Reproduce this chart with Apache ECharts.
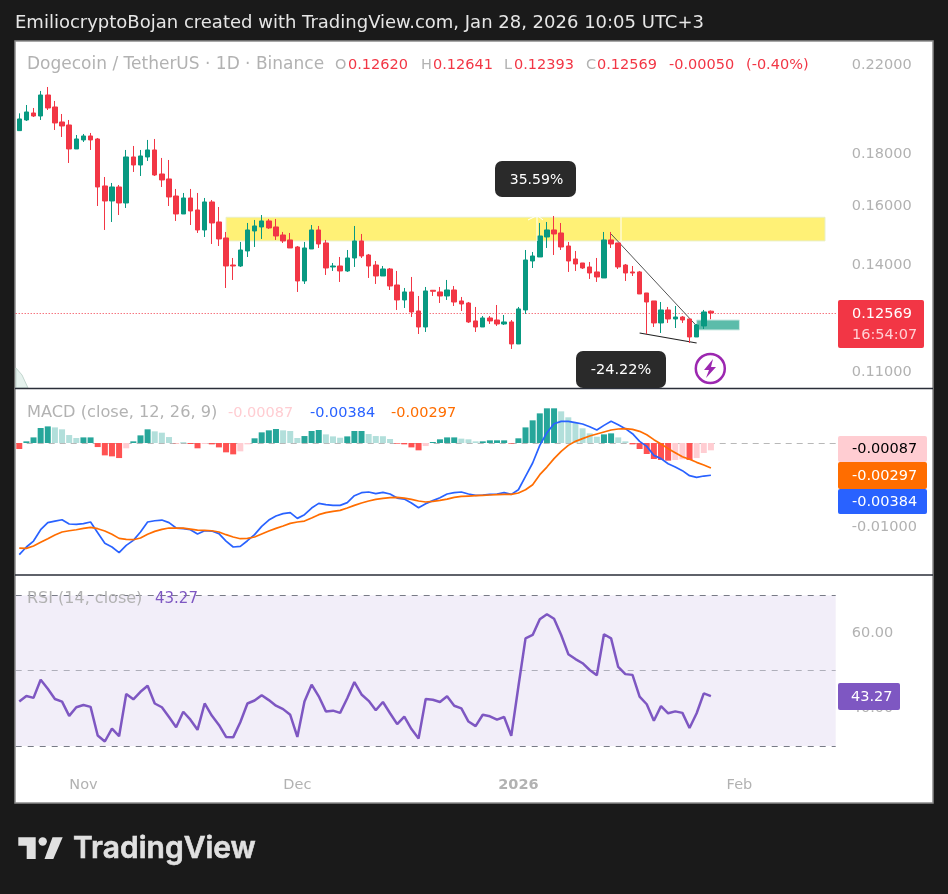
<!DOCTYPE html>
<html>
<head>
<meta charset="utf-8">
<style>html,body{margin:0;padding:0;background:#1a1a1a}#main{width:948px;height:894px}</style>
<script src="https://cdn.jsdelivr.net/npm/echarts@6/dist/echarts.min.js"></script>
</head>
<body>
<div id="main"></div>
<script>
// daily candles, Oct 23 2025 -> Jan 28 2026
var opens = [.18971,.19433,.19742,.19608,.2056,.20011,.19345,.19214,.18202,.18576,
  .18743,.18617,.16743,.16185,.16705,.16112,.17876,.17555,.17876,.18161,
  .17202,.1701,.16368,.15717,.16295,.1586,.1516,.16149,.15436,.14889,
  .14007,.13976,.14458,.15126,.15263,.15471,.15263,.14989,.14822,.14589,
  .13511,.14523,.1516,.14721,.13945,.13976,.1382,.14231,.14788,.14327,
  .14007,.13664,.13882,.13389,.12944,.1318,.12626,.12178,.1323,.1318,
  .13061,.13239,.12915,.12856,.12345,.12178,.12428,.12372,.12261,.12317,
  .1172,.12655,.14135,.14263,.14922,.1516,.15057,.14621,.14199,.14071,
  .13945,.13789,.13603,.14822,.14721,.14007,.13789,.13789,.1315,.12915,
  .12289,.12655,.124,.12456,.124,.11907,.12206,.1262];
var closes = [.19477,.19787,.19608,.2056,.19966,.19302,.19171,.18202,.18617,.18743,
  .18576,.16705,.16185,.16705,.16112,.17876,.17555,.17916,.18161,.17163,
  .16972,.16332,.15717,.16295,.15824,.1516,.16149,.15401,.14855,.13976,
  .13976,.1449,.1516,.15297,.15471,.15229,.14955,.14788,.14556,.13511,
  .14556,.1516,.14688,.13913,.13976,.1382,.14231,.14788,.14295,.13976,
  .13664,.13882,.13359,.12944,.1318,.12598,.12178,.1321,.132,.13061,
  .13239,.12885,.12827,.12317,.12178,.12428,.12345,.12261,.12317,.1172,
  .12684,.14167,.14295,.14955,.1516,.15023,.14589,.14135,.14039,.13913,
  .13757,.13634,.14822,.14688,.13945,.13757,.13757,.1312,.12885,.12289,
  .12655,.124,.12456,.12372,.11907,.12233,.12598,.12569];
var lows = [.18971,.19389,.19564,.19433,.19877,.18999,.18701,.17635,.18202,.18492,
  .18161,.16003,.1516,.15436,.15681,.15932,.17281,.17125,.17715,.17125,
  .16705,.16003,.15471,.15717,.15331,.15057,.14922,.14688,.14621,.13299,
  .13542,.13945,.14263,.14589,.14855,.15194,.14822,.14721,.14556,.1318,
  .1342,.14523,.14556,.13695,.1382,.13481,.13789,.13945,.14231,.13603,
  .1342,.13664,.13239,.12655,.12712,.12456,.11987,.12042,.13061,.12856,
  .12944,.12769,.12626,.12289,.12042,.12178,.12261,.12206,.12233,.11589,
  .1172,.12541,.13913,.14263,.14556,.14327,.1449,.13789,.1382,.13882,
  .13573,.13481,.13603,.14556,.13882,.13511,.13664,.1312,.11987,.12178,
  .12014,.12289,.1215,.12289,.11746,.11907,.12123,.12393];
var highs = [.19727,.20101,.19966,.20748,.20935,.20285,.19697,.19433,.18785,.18828,
  .18871,.18659,.17086,.16857,.1678,.18161,.18325,.18161,.18576,.18617,
  .17836,.17755,.1663,.1648,.1663,.1648,.16295,.16222,.15967,.15092,
  .14231,.14755,.15401,.15506,.15681,.15541,.15541,.15092,.15057,.14621,
  .14755,.15331,.15297,.14822,.14071,.14263,.1449,.15297,.15023,.1436,
  .14135,.13976,.13913,.1382,.13299,.13634,.13061,.13329,.13239,.13329,
  .13542,.13359,.13032,.12885,.12741,.12484,.12484,.12798,.12512,.12372,
  .12741,.1449,.14425,.15401,.15436,.15646,.15401,.14755,.14458,.14071,
  .14103,.14231,.15092,.15092,.14721,.14039,.13976,.1382,.1315,.12915,
  .12885,.12741,.12769,.12484,.124,.12261,.12655,.12641];

var macdLine = [-.01329,-.01238,-.01167,-.01032,-.00948,-.00929,-.00913,-.00964,-.00968,-.0096,
  -.0094,-.01067,-.01194,-.01238,-.01305,-.01218,-.01159,-.01059,-.0094,-.00925,
  -.00917,-.00948,-.01012,-.0102,-.01032,-.01083,-.01044,-.01048,-.01079,-.01167,
  -.01238,-.0123,-.01163,-.01091,-.00992,-.00917,-.00869,-.00841,-.00829,-.00897,
  -.00853,-.00774,-.00718,-.00734,-.00742,-.00742,-.0071,-.00627,-.00591,-.00583,
  -.00603,-.00587,-.00607,-.00655,-.00667,-.00714,-.0077,-.00722,-.00686,-.00651,
  -.00607,-.00591,-.00583,-.00607,-.00623,-.00619,-.00611,-.00607,-.00591,-.00611,
  -.00556,-.00397,-.00238,-.00028,.00123,.0023,.00258,.00258,.00242,.00226,
  .00194,.00155,.0021,.00258,.00218,.00171,.00111,.0002,-.0004,-.00147,
  -.00186,-.00246,-.00286,-.00329,-.00389,-.00409,-.00393,-.00384];
var signalLine = [-.0125,-.01254,-.01226,-.01182,-.01139,-.01095,-.01059,-.01044,-.01032,-.01016,
  -.01004,-.0102,-.01048,-.01087,-.01135,-.01147,-.01151,-.01131,-.01087,-.01052,
  -.01028,-.01012,-.01012,-.01012,-.01024,-.01036,-.0104,-.01044,-.01059,-.01091,
  -.01119,-.01139,-.01135,-.01119,-.01083,-.01048,-.01016,-.00988,-.00956,-.0094,
  -.00929,-.00893,-.00853,-.00829,-.00813,-.00802,-.00774,-.00742,-.00714,-.0069,
  -.00671,-.00659,-.00651,-.00647,-.00655,-.00671,-.0069,-.00702,-.00694,-.00682,
  -.00667,-.00647,-.00635,-.00631,-.00627,-.00623,-.00619,-.00615,-.00611,-.00611,
  -.00595,-.00556,-.00496,-.00377,-.00286,-.00186,-.00099,-.00028,.0002,.00052,
  .00083,.00107,.00131,.00155,.00167,.00171,.00163,.00139,.00099,.0004,
  -.00012,-.00067,-.00115,-.00163,-.00194,-.0023,-.00262,-.00297];
var macdHist = [-.00071,.0002,.00067,.00179,.00198,.00186,.00163,.00095,.0006,.00067,
  .00067,-.00048,-.00147,-.00159,-.00179,-.00063,.0002,.00091,.00163,.00139,
  .00123,.00071,-.00004,.00004,-.00012,-.00063,-.00012,-.00016,-.00052,-.00111,
  -.00135,-.00099,-.00016,.00056,.00127,.00151,.00167,.00151,.00143,.0006,
  .00083,.00143,.00155,.00103,.00079,.00063,.00079,.00143,.00143,.00107,
  .00083,.00081,.00048,-.00008,-.00016,-.00052,-.00087,-.00036,.00012,.00044,
  .00067,.00067,.00052,.00044,.0002,.0002,.00032,.00032,.00032,-.00008,
  .00056,.00186,.0027,.00353,.00413,.00413,.00377,.00306,.00242,.00175,
  .00115,.00075,.00103,.00115,.00067,.0002,-.00016,-.00071,-.00131,-.0019,
  -.00202,-.0021,-.00202,-.00194,-.00202,-.00179,-.00119,-.00087];
var rsiLine = [41.8,43.3,42.8,47.6,45.2,42.5,41.8,38,40.3,40.9,
  40.4,32.8,31.2,34.6,32.6,43.8,42.4,44.4,46,41.3,
  40.3,37.7,35,39.1,37,34.3,41.3,38.1,35.6,32.4,
  32.3,36.3,41.3,42.1,43.5,42.2,40.7,39.8,38.3,32.4,
  41.8,46.3,43.2,39.2,39.4,38.8,42.7,47,43.7,42,
  39.5,41.7,38.7,35.8,37.8,34.5,32,42.5,42.3,41.7,
  43.2,40.7,40,36.5,35.3,38.3,37.9,37,37.7,32.7,
  45.8,58.6,59.5,63.7,65,63.8,59.5,54.4,53.1,52,
  50.2,48.8,59.7,58.6,51,49.1,48.9,43.1,41.1,36.7,
  40.6,38.7,39.2,38.8,34.8,38.7,44,43.27];

var priceTicks = [0.22, 0.18, 0.16, 0.14, 0.11];
var macdTicks = [-0.01];
var rsiTicks = [60, 40];
var timeTickIndex = [9, 39, 70, 101];
var timeTickLabels = ['Nov', 'Dec', '2026', 'Feb'];

// the x axis runs on past the last candle, up to Feb 14
var categories = [];
for (var d = 0; d < 115; d++) {
  var day = new Date(2025, 9, 23 + d);
  categories.push((day.getMonth() + 1) + '/' + day.getDate());
}

var UP = '#089981', DOWN = '#f23645', GRAY = '#b2b2b2', FONT = '"DejaVu Sans", sans-serif';

function histColor(i) {
  var v = macdHist[i], prev = i > 0 ? macdHist[i - 1] : 0;
  if (v >= 0) return v >= prev ? '#26a69a' : '#b2dfdb';
  return v < prev ? '#ff5252' : '#ffcdd2';
}

function text(x, y, str, color, size, extra) {
  var style = {x: x, y: y, text: str, fill: color, fontSize: size, fontFamily: FONT, verticalAlign: 'middle'};
  for (var k in extra) style[k] = extra[k];
  return {type: 'text', z: 102, silent: true, style: style};
}
function box(x, y, w, h, color, r) {
  return {type: 'rect', z: 101, silent: true, shape: {x: x, y: y, width: w, height: h, r: r || 2}, style: {fill: color}};
}
function rule(x1, y1, x2, y2, color, w) {
  return {type: 'line', z: 5, silent: true, shape: {x1: x1, y1: y1, x2: x2, y2: y2}, style: {stroke: color, lineWidth: w}};
}

var graphics = [
  {type: 'rect', z: -1, silent: true, shape: {x: 15, y: 41, width: 918, height: 762}, style: {fill: '#fff', stroke: '#8c8c8c', lineWidth: 1.5}},
  rule(15, 388.5, 933, 388.5, '#2a2e39', 1.5),
  rule(15, 575, 933, 575, '#2a2e39', 1.5),
  // measuring tool leftovers in the yellow zone
  rule(537, 216, 537, 241, '#fff', 1),
  rule(621, 217, 621, 241, '#fff', 1),
  rule(528, 220, 536, 216, '#fff', 1),
  rule(538, 216, 543, 220, '#fff', 1),
  {type: 'polygon', z: 1, silent: true, shape: {points: [[16, 368], [22, 375], [28, 388], [16, 388]]}, style: {fill: '#e6f2ee', stroke: '#c3d6cf', lineWidth: 1}},

  text(15, 23, 'EmiliocryptoBojan created with TradingView.com, Jan 28, 2026 10:05 UTC+3', '#e6e6e6', 18),

  text(27, 65, 'Dogecoin / TetherUS · 1D · Binance', GRAY, 17),
  text(335, 65, 'O', GRAY, 14.5), text(348, 65, '0.12620', DOWN, 14.5),
  text(421, 65, 'H', GRAY, 14.5), text(433, 65, '0.12641', DOWN, 14.5),
  text(504, 65, 'L', GRAY, 14.5), text(514, 65, '0.12393', DOWN, 14.5),
  text(586, 65, 'C', GRAY, 14.5), text(597, 65, '0.12569', DOWN, 14.5),
  text(669, 65, '-0.00050', DOWN, 14.5), text(746, 65, '(-0.40%)', DOWN, 14.5),

  text(27, 413, 'MACD (close, 12, 26, 9)', GRAY, 16.2),
  text(228, 413, '-0.00087', '#ffcdd2', 14.5), text(310, 413, '-0.00384', '#2962ff', 14.5), text(391, 413, '-0.00297', '#ff6d00', 14.5),
  text(27, 599, 'RSI (14, close)', GRAY, 16), text(155, 599, '43.27', '#7e57c2', 15),

  box(495, 161, 81, 36, '#2a2a2a', 7), text(536.5, 180, '35.59%', '#fff', 14, {align: 'center'}),
  box(576, 351, 90, 37, '#2a2a2a', 7), text(621, 370, '-24.22%', '#fff', 14.5, {align: 'center'}),
  {type: 'circle', z: 101, silent: true, shape: {cx: 710.3, cy: 368.5, r: 14.5}, style: {fill: '#fff', stroke: '#9c27b0', lineWidth: 2.5}},
  {type: 'polygon', z: 102, silent: true, shape: {points: [[713, 359], [704, 370], [709, 370], [706, 378], [716, 367], [711, 367]]}, style: {fill: '#9c27b0'}},

  box(838, 300, 86, 48, DOWN), text(852, 314, '0.12569', '#fff', 14.5), text(852, 335, '16:54:07', '#ffd0d4', 14.5),
  box(838, 436, 89, 26, '#ffcdd2'), text(852, 449, '-0.00087', '#000', 14.5),
  box(838, 462, 89, 27, '#ff6d00'), text(852, 476, '-0.00297', '#fff', 14.5),
  box(838, 489, 89, 25, '#2962ff'), text(852, 502, '-0.00384', '#fff', 14.5),
  box(838, 683, 62, 27, '#7e57c2'), text(851, 697, '43.27', '#fff', 14.5),

  // TradingView logo
  {type: 'polygon', z: 5, silent: true, shape: {points: [[18.3, 837.3], [35.7, 837.3], [35.7, 859], [26.7, 859], [26.7, 845.7], [18.3, 845.7]]}, style: {fill: '#e0e0e0'}},
  {type: 'circle', z: 5, silent: true, shape: {cx: 42.7, cy: 841.5, r: 4.2}, style: {fill: '#e0e0e0'}},
  {type: 'polygon', z: 5, silent: true, shape: {points: [[52.5, 837.3], [62.7, 837.3], [53.3, 859], [44.5, 859]]}, style: {fill: '#e0e0e0'}},
  text(73, 849, 'TradingView', '#e0e0e0', 30, {fontFamily: 'Inter, sans-serif', fontWeight: 600, stroke: '#e0e0e0', lineWidth: 0.6})
];

function xAxisFor(gridIndex, showLabels) {
  return {
    type: 'category', gridIndex: gridIndex, data: categories, boundaryGap: true,
    axisLine: {show: false}, axisTick: {show: false}, splitLine: {show: false},
    axisLabel: !showLabels ? {show: false} : {
      show: true, margin: 10, color: GRAY, fontSize: 14.5, fontFamily: FONT,
      hideOverlap: false,
      interval: function (i) { return timeTickIndex.indexOf(i) >= 0; },
      formatter: function (v, i) {
        var label = timeTickLabels[timeTickIndex.indexOf(i)];
        return label === '2026' ? '{b|' + label + '}' : label;
      },
      rich: {b: {fontWeight: 'bold', color: GRAY, fontSize: 14.5, fontFamily: FONT}}
    }
  };
}
function yAxisFor(gridIndex, type, min, max, ticks, digits) {
  var axis = {
    type: type, gridIndex: gridIndex, position: 'right', min: min, max: max, scale: true,
    axisLine: {show: false}, axisTick: {show: false}, splitLine: {show: false},
    axisLabel: {
      margin: 16, color: GRAY, fontSize: 14.5, fontFamily: FONT, customValues: ticks, padding: [2, 0, 0, 0],
      formatter: function (v) { return Number(v).toFixed(digits); }
    }
  };
  if (type === 'log') axis.logBase = 10;
  return axis;
}

var candles = opens.map(function (o, i) { return [o, closes[i], lows[i], highs[i]]; });

var myChart = echarts.init(document.getElementById('main'));
myChart.setOption({
  animation: false,
  backgroundColor: '#1a1a1a',
  graphic: {elements: graphics},
  grid: [
    {left: 15.7, width: 820, top: 42, height: 346},
    {left: 15.7, width: 820, top: 389, height: 186},
    {left: 15.7, width: 820, top: 576, height: 192}
  ],
  xAxis: [xAxisFor(0, false), xAxisFor(1, false), xAxisFor(2, true)],
  yAxis: [
    yAxisFor(0, 'log', 0.10611, 0.23173, priceTicks, 5),
    yAxisFor(1, 'value', -0.01571, 0.00643, macdTicks, 5),
    yAxisFor(2, 'value', 24.16, 75.17, rsiTicks, 2)
  ],
  series: [
    {
      name: 'DOGEUSDT', type: 'candlestick', xAxisIndex: 0, yAxisIndex: 0, z: 3, barWidth: 5,
      data: candles,
      itemStyle: {color: UP, color0: DOWN, borderColor: UP, borderColor0: DOWN, borderWidth: 1},
      markArea: {
        silent: true, z: 1,
        data: [
          [{xAxis: categories[29], yAxis: 0.156, itemStyle: {color: '#fff176', borderColor: '#e9efc8', borderWidth: 1}}, {xAxis: categories[113], yAxis: 0.1479}],
          [{xAxis: categories[95], yAxis: 0.12372, itemStyle: {color: '#5cbcaa', borderColor: '#cfeae4', borderWidth: 1}}, {xAxis: categories[101], yAxis: 0.12096}]
        ]
      },
      markLine: {
        silent: true, symbol: 'none', z: 2, label: {show: false}, precision: 5,
        data: [
          {yAxis: 0.12569, lineStyle: {color: DOWN, type: [1, 2], width: 1}},
          [{coord: [categories[83], 0.15023], lineStyle: {color: '#555', type: 'solid', width: 1}}, {coord: [categories[95], 0.12206]}],
          [{coord: [categories[87], 0.12014], lineStyle: {color: '#222', type: 'solid', width: 1.2}}, {coord: [categories[95], 0.11746]}]
        ]
      }
    },
    {
      name: 'Histogram', type: 'bar', xAxisIndex: 1, yAxisIndex: 1, barWidth: 6, z: 2,
      data: macdHist.map(function (v, i) { return {value: v, itemStyle: {color: histColor(i)}}; }),
      markLine: {
        silent: true, symbol: 'none', label: {show: false}, z: 1,
        data: [{yAxis: 0, lineStyle: {color: '#b8b8b8', type: [6, 5], width: 1}}]
      }
    },
    {name: 'MACD', type: 'line', xAxisIndex: 1, yAxisIndex: 1, data: macdLine, symbol: 'none', z: 3, lineStyle: {color: '#2962ff', width: 1.7}},
    {name: 'Signal', type: 'line', xAxisIndex: 1, yAxisIndex: 1, data: signalLine, symbol: 'none', z: 3, lineStyle: {color: '#ff6d00', width: 1.7}},
    {
      name: 'RSI', type: 'line', xAxisIndex: 2, yAxisIndex: 2, data: rsiLine, symbol: 'none', z: 3,
      lineStyle: {color: '#7e57c2', width: 2.5},
      markArea: {
        silent: true, z: 1,
        data: [[{yAxis: 70, itemStyle: {color: 'rgba(126,87,194,0.1)'}}, {yAxis: 30}]]
      },
      markLine: {
        silent: true, symbol: 'none', label: {show: false}, z: 2,
        data: [
          {yAxis: 70, lineStyle: {color: '#787b86', type: [6, 6], width: 1}},
          {yAxis: 50, lineStyle: {color: 'rgba(120,123,134,0.55)', type: [6, 6], width: 1}},
          {yAxis: 30, lineStyle: {color: '#787b86', type: [6, 6], width: 1}}
        ]
      }
    }
  ]
});
</script>
</body>
</html>
